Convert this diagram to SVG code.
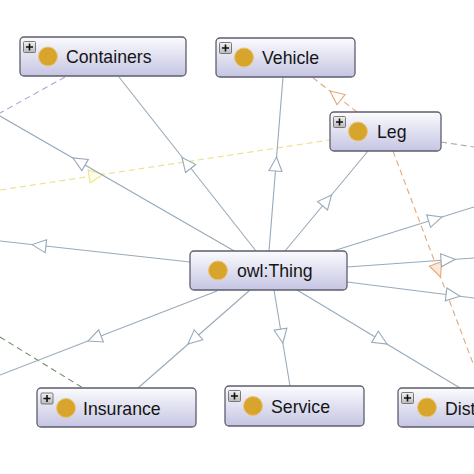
<svg xmlns="http://www.w3.org/2000/svg" xmlns:xlink="http://www.w3.org/1999/xlink" width="474" height="474" viewBox="0 0 474 474">
<style>
.e{stroke:#98A9BA;stroke-width:1.1;fill:none}
.d{stroke-width:1.1;fill:none;stroke-dasharray:6 4}
.ah{fill:#fff;stroke:#98A9BA;stroke-width:1.1}
.box{fill:url(#ng);stroke:#5E5E6E;stroke-width:1.3}
.pb{fill:url(#pg);stroke:#6E6E6E;stroke-width:0.9}
.pl{stroke:#111;stroke-width:1.6}
.dot{fill:#D8A42C;stroke:#E8C77A;stroke-width:1}
.t{font-family:"Liberation Sans",Arial,sans-serif;font-size:17.7px;fill:#151515}
</style>
<defs>
<linearGradient id="ng" x1="0" y1="0" x2="0" y2="1">
<stop offset="0" stop-color="#FBFBFE"/>
<stop offset="1" stop-color="#C5C5E3"/>
</linearGradient>
<linearGradient id="pg" x1="0" y1="0" x2="0" y2="1">
<stop offset="0" stop-color="#F2F2F2"/>
<stop offset="1" stop-color="#B9B9B9"/>
</linearGradient>
<path id="ah" d="M0,0 L-14,-6.5 L-14,6.5 Z"/>
<g id="plus">
<rect class="pb" x="0" y="0" width="12" height="11" rx="1"/>
<path class="pl" d="M2.5,5.5 H9.5 M6,2 V9"/>
</g>
</defs>

<g id="connectors">
<!-- dashed relations -->
<line class="d" stroke="#B4A4CE" x1="65" y1="77" x2="0" y2="113"/>
<line class="d" stroke="#EDE08C" x1="0" y1="190" x2="330" y2="140"/>
<use href="#ah" transform="translate(103,174.4) rotate(-8.6)" fill="#FFFDE8" stroke="#EDE08C" stroke-width="1.1"/>
<line class="d" stroke="#E2A878" x1="357" y1="112" x2="312" y2="77"/>
<use href="#ah" transform="translate(330,91) rotate(-142)" fill="#fff" stroke="#E2A878" stroke-width="1.1"/>
<line class="d" stroke="#E2A878" x1="393" y1="151" x2="474" y2="366"/>
<use href="#ah" transform="translate(440.5,277) rotate(69.3)" fill="#FCE8D6" stroke="#E2A878" stroke-width="1.1"/>
<line class="d" stroke="#ABABAB" x1="441" y1="142" x2="474" y2="147"/>
<line class="d" stroke="#6E8E6E" x1="0" y1="337" x2="83" y2="388"/>

<!-- subclass edges from owl:Thing -->
<line class="e" x1="256" y1="251" x2="119" y2="77"/>
<use href="#ah" class="ah" transform="translate(182,157.5) rotate(-128.2)"/>
<line class="e" x1="269" y1="251" x2="283" y2="77"/>
<use href="#ah" class="ah" transform="translate(276.6,157) rotate(-85.4)"/>
<line class="e" x1="285" y1="251" x2="368" y2="151"/>
<use href="#ah" class="ah" transform="translate(331.5,195) rotate(-50.3)"/>
<line class="e" x1="236" y1="252" x2="0" y2="116"/>
<use href="#ah" class="ah" transform="translate(73,158) rotate(-150)"/>
<line class="e" x1="190" y1="262" x2="0" y2="241"/>
<use href="#ah" class="ah" transform="translate(32,244.6) rotate(-173.7)"/>
<line class="e" x1="217" y1="291" x2="0" y2="375"/>
<use href="#ah" class="ah" transform="translate(88,341) rotate(158.8)"/>
<line class="e" x1="250" y1="290" x2="138" y2="388"/>
<use href="#ah" class="ah" transform="translate(188,344) rotate(138.8)"/>
<line class="e" x1="274" y1="290" x2="290" y2="386"/>
<use href="#ah" class="ah" transform="translate(282.8,343) rotate(80.5)"/>
<line class="e" x1="297" y1="290" x2="460" y2="388"/>
<use href="#ah" class="ah" transform="translate(387,344) rotate(31)"/>
<line class="e" x1="333" y1="251" x2="474" y2="207"/>
<use href="#ah" class="ah" transform="translate(442,217) rotate(-17.3)"/>
<line class="e" x1="347" y1="267" x2="474" y2="258"/>
<use href="#ah" class="ah" transform="translate(455,259.3) rotate(-4)"/>
<line class="e" x1="347" y1="282" x2="474" y2="298"/>
<use href="#ah" class="ah" transform="translate(460,296.2) rotate(7.2)"/>
</g>

<g id="node-containers" transform="translate(20,37)">
<rect class="box" width="166" height="39" rx="4"/>
<use href="#plus" x="3.5" y="4.5"/>
<circle class="dot" cx="28" cy="19.5" r="9.5"/>
<text class="t" x="46" y="26">Containers</text>
</g>
<g id="node-vehicle" transform="translate(216,38)">
<rect class="box" width="139" height="39" rx="4"/>
<use href="#plus" x="3.5" y="4.5"/>
<circle class="dot" cx="28" cy="19.5" r="9.5"/>
<text class="t" x="46" y="26">Vehicle</text>
</g>
<g id="node-leg" transform="translate(330,112)">
<rect class="box" width="111" height="39" rx="4"/>
<use href="#plus" x="3.5" y="4.5"/>
<circle class="dot" cx="28" cy="19.5" r="9.5"/>
<text class="t" x="47" y="26">Leg</text>
</g>
<g id="node-owlthing" transform="translate(190,251)">
<rect class="box" width="157" height="39" rx="4"/>
<circle class="dot" cx="28" cy="19.5" r="9.5"/>
<text class="t" x="47" y="26">owl:Thing</text>
</g>
<g id="node-insurance" transform="translate(37,388)">
<rect class="box" width="159" height="39" rx="4"/>
<use href="#plus" x="4" y="5"/>
<circle class="dot" cx="29" cy="20" r="9.5"/>
<text class="t" x="46" y="26.5">Insurance</text>
</g>
<g id="node-service" transform="translate(225,386)">
<rect class="box" width="139" height="40" rx="4"/>
<use href="#plus" x="3.5" y="4.5"/>
<circle class="dot" cx="28" cy="20" r="9.5"/>
<text class="t" x="46" y="26.5">Service</text>
</g>
<g id="node-dist" transform="translate(398,388)">
<rect class="box" width="110" height="39" rx="4"/>
<use href="#plus" x="3.5" y="4.5"/>
<circle class="dot" cx="29" cy="19.5" r="9.5"/>
<text class="t" x="47" y="26.5">Dist</text>
</g>
</svg>
